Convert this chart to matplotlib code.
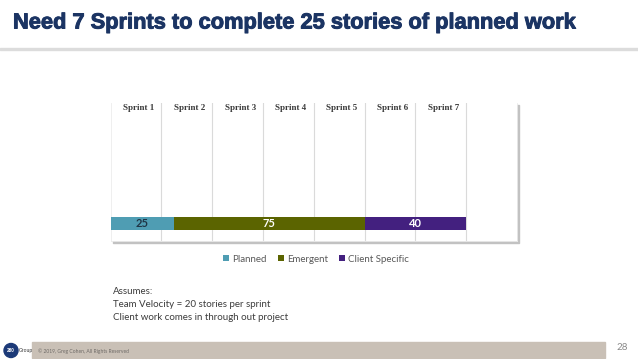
import matplotlib
matplotlib.use("Agg")
import matplotlib.pyplot as plt
import matplotlib.patheffects as pe
from matplotlib.patches import Rectangle, Ellipse

# data
segments = ["Planned", "Emergent", "Client Specific"]
stories = [25, 75, 40]
colors = ["#4f9db3", "#5b6400", "#43207f"]
label_colors = ["#1f3545", "white", "white"]
sprints = ["Sprint 1", "Sprint 2", "Sprint 3", "Sprint 4", "Sprint 5", "Sprint 6", "Sprint 7"]
velocity = 20
notes = ["Assumes:", "Team Velocity = 20 stories per sprint", "Client work comes in through out project"]

W, H = 638, 359
fig = plt.figure(figsize=(W / 100, H / 100), dpi=100)
fig.patch.set_facecolor("white")


def fx(px):
    return px / W


def fy(py):
    return 1 - py / H


# title + rule
title = fig.text(fx(13), fy(23), "Need 7 Sprints to complete 25 stories of planned work",
                 family="Liberation Sans", weight="bold", color="#1b3463",
                 fontsize=16, va="center", ha="left")
fig.canvas.draw()
bb = title.get_window_extent()
title.set_fontsize(16 * 562 / bb.width)
title.set_path_effects([pe.withStroke(linewidth=0.7, foreground="#1b3463")])
fig.patches.append(Rectangle((0, fy(50)), 1, fy(47.5) - fy(50), transform=fig.transFigure,
                             color="#dcdcdc", zorder=-2))

# chart box
left, right, top, bottom = 110.7, 517, 103, 240.7
fig.patches.append(Rectangle((fx(left + 2), fy(bottom + 2)), fx(right - left), fy(top) - fy(bottom),
                             transform=fig.transFigure, color="#c2c2c2", zorder=-2))
ax = fig.add_axes([fx(left), fy(bottom), fx(right - left), fy(top) - fy(bottom)])
ax.set_zorder(1)
ax.set_facecolor("white")
for s in ax.spines.values():
    s.set_color("#ececec")
    s.set_linewidth(0.6)
ax.spines["top"].set_visible(False)

n = len(sprints)
ax.set_xlim(0, velocity * (n + 1))
ax.set_ylim(0, 1)
ax.set_xticks([velocity * i for i in range(1, n + 1)])
ax.xaxis.grid(True, color="#dadada", linewidth=0.8)
ax.set_axisbelow(True)
ax.tick_params(length=0, labelbottom=False, labelleft=False)
ax.set_yticks([])

start = 0
handles = []
for seg, val, col, lc in zip(segments, stories, colors, label_colors):
    h = ax.barh(0.126, val, left=start, height=0.097, color=col, label=seg, zorder=3)
    handles.append(h)
    ax.text(start + val / 2, 0.126, str(val), ha="center", va="center", color=lc,
            family="Lato", weight="bold", fontsize=8, zorder=4)
    start += val

for i, name in enumerate(sprints):
    ax.text(velocity * i + velocity / 2 + 1, 0.965, name, ha="center", va="center",
            family="Liberation Serif", weight="bold", fontsize=6.5, color="#3a3a3a",
            transform=ax.get_xaxis_transform())

fig.legend(handles=handles, loc="center", bbox_to_anchor=(fx(316), fy(259)), ncol=3,
           frameon=False, prop={"family": "Lato", "size": 7}, labelcolor="#595959",
           handlelength=0.6, handleheight=0.6, handletextpad=0.3, columnspacing=1.2)

# notes
for i, line in enumerate(notes):
    fig.text(fx(113), fy(291.5 + i * 13), line, family="Lato", fontsize=7,
             color="#3c3c3c", va="center", ha="left")

# footer
fig.patches.append(Rectangle((fx(32), fy(358)), fx(605 - 32), fy(342) - fy(358),
                             transform=fig.transFigure, color="#c9c0b6", zorder=-2))
fig.text(fx(38), fy(351), "\u00a9 2019, Greg Cohen, All Rights Reserved", family="Lato",
         fontsize=3.6, color="#6e6a66", va="center")
fig.patches.append(Ellipse((fx(11), fy(350.5)), fx(14), 14 / H, transform=fig.transFigure,
                           color="#1c3a78", zorder=-1))
fig.text(fx(11), fy(350.5), "280", family="Liberation Sans", weight="bold", fontsize=3.3,
         color="white", ha="center", va="center")
fig.text(fx(18.5), fy(350.5), "Group", family="Liberation Sans", fontsize=3.6,
         color="#333333", ha="left", va="center")
fig.text(fx(622), fy(348), "28", family="Lato", fontsize=7, color="#8a8a8a",
         ha="center", va="center")

fig.savefig("out.png", dpi=100)
